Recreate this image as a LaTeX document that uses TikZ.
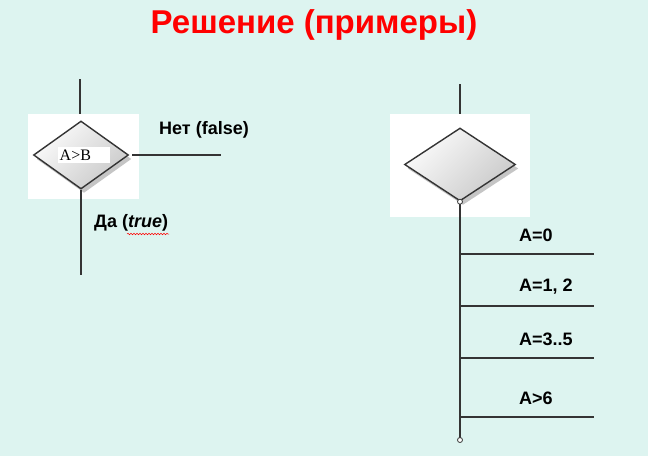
\documentclass[tikz,border=0pt]{standalone}
\usepackage{fontspec}
\setmainfont{Liberation Sans}
\newfontfamily\serifA{Liberation Serif}
\usepackage{tikz}
\usepackage{xcolor}
\usetikzlibrary{positioning, shapes.geometric, shadows, decorations.pathmorphing}
\definecolor{mint}{RGB}{221,244,240}
\definecolor{wire}{RGB}{52,52,52}

\begin{document}
\begin{tikzpicture}[
            x=1pt, y=-1pt,
            wbox/.style={rectangle, fill=white, inner sep=0pt},
            cond/.style={diamond, draw=wire, line width=1.4pt, inner sep=0pt,
                shading=axis, top color=gray!3, bottom color=gray!42, shading angle=45,
                drop shadow={shadow xshift=3pt, shadow yshift=-4pt, opacity=.45, fill=gray}},
            lbl/.style={font=\bfseries\fontsize{18}{21}\selectfont, inner sep=0pt},
            dot/.style={circle, draw=wire, fill=white, inner sep=0pt, minimum size=5pt, line width=.8pt},
        ]
            \fill[mint] (0,0) rectangle (648,456);
            \useasboundingbox (0,0) rectangle (648,456);

            \node[font=\bfseries\fontsize{33}{38}\selectfont, text=red, inner sep=0pt] (title) at (314,25) {Решение (примеры)};

            \node[wbox, minimum width=111pt, minimum height=85pt] (boxL) at (83.5,156.5) {};
            \node[cond, minimum width=95pt, minimum height=68pt] (dL) at (81,155) {};
            \node[wbox, anchor=west, text width=49pt, inner xsep=1.5pt, minimum height=16pt,
                font=\serifA\fontsize{16}{17}\selectfont] (cmp) at (58,155) {A>B};
            \coordinate (topL) at (80,79);
            \coordinate (noL) at (221,155);
            \coordinate (botL) at (81,275);
            \draw[wire, line width=1.5pt] (topL) -- (topL |- boxL.north);
            \draw[wire, line width=1.3pt] ([xshift=3pt]dL.east) -- (dL.east -| noL);
            \draw[wire, line width=1.5pt] (dL.south) -- (botL);
            \node[lbl, anchor=west] (no) at (159,130) {Нет (false)};
            \node[lbl, anchor=west] (yes) at (94,223) {Да (\textit{true})};
            \draw[red, line width=.5pt, decorate, decoration={snake, amplitude=.8pt, segment length=3pt}]
                (127,234) -- (169,234);

            \node[wbox, minimum width=140pt, minimum height=103pt] (boxR) at (460,165.5) {};
            \node[cond, minimum width=111pt, minimum height=73pt] (dR) at (460,164.5) {};
            \coordinate (topR) at (460,84);
            \coordinate (endR) at (460,440);
            \draw[wire, line width=2pt] (topR) -- (topR |- boxR.north);
            \draw[wire, line width=2pt] (dR.south) -- (endR);
            \foreach \i/\y/\txt in {1/254/{A=0}, 2/306/{A=1, 2}, 3/358/{A=3..5}, 4/417/{A>6}} {
                \coordinate (b\i) at (460,\y);
                \coordinate (e\i) at (594,\y);
                \draw[wire, line width=1.4pt] (b\i) -- (e\i);
                \node[lbl, anchor=west] (case\i) at (519,\y-19) {\txt};
            }
            \node[dot] (splitR) at (dR.south) {};
            \node[dot] (joinR) at (endR) {};
        \end{tikzpicture}
\end{document}
